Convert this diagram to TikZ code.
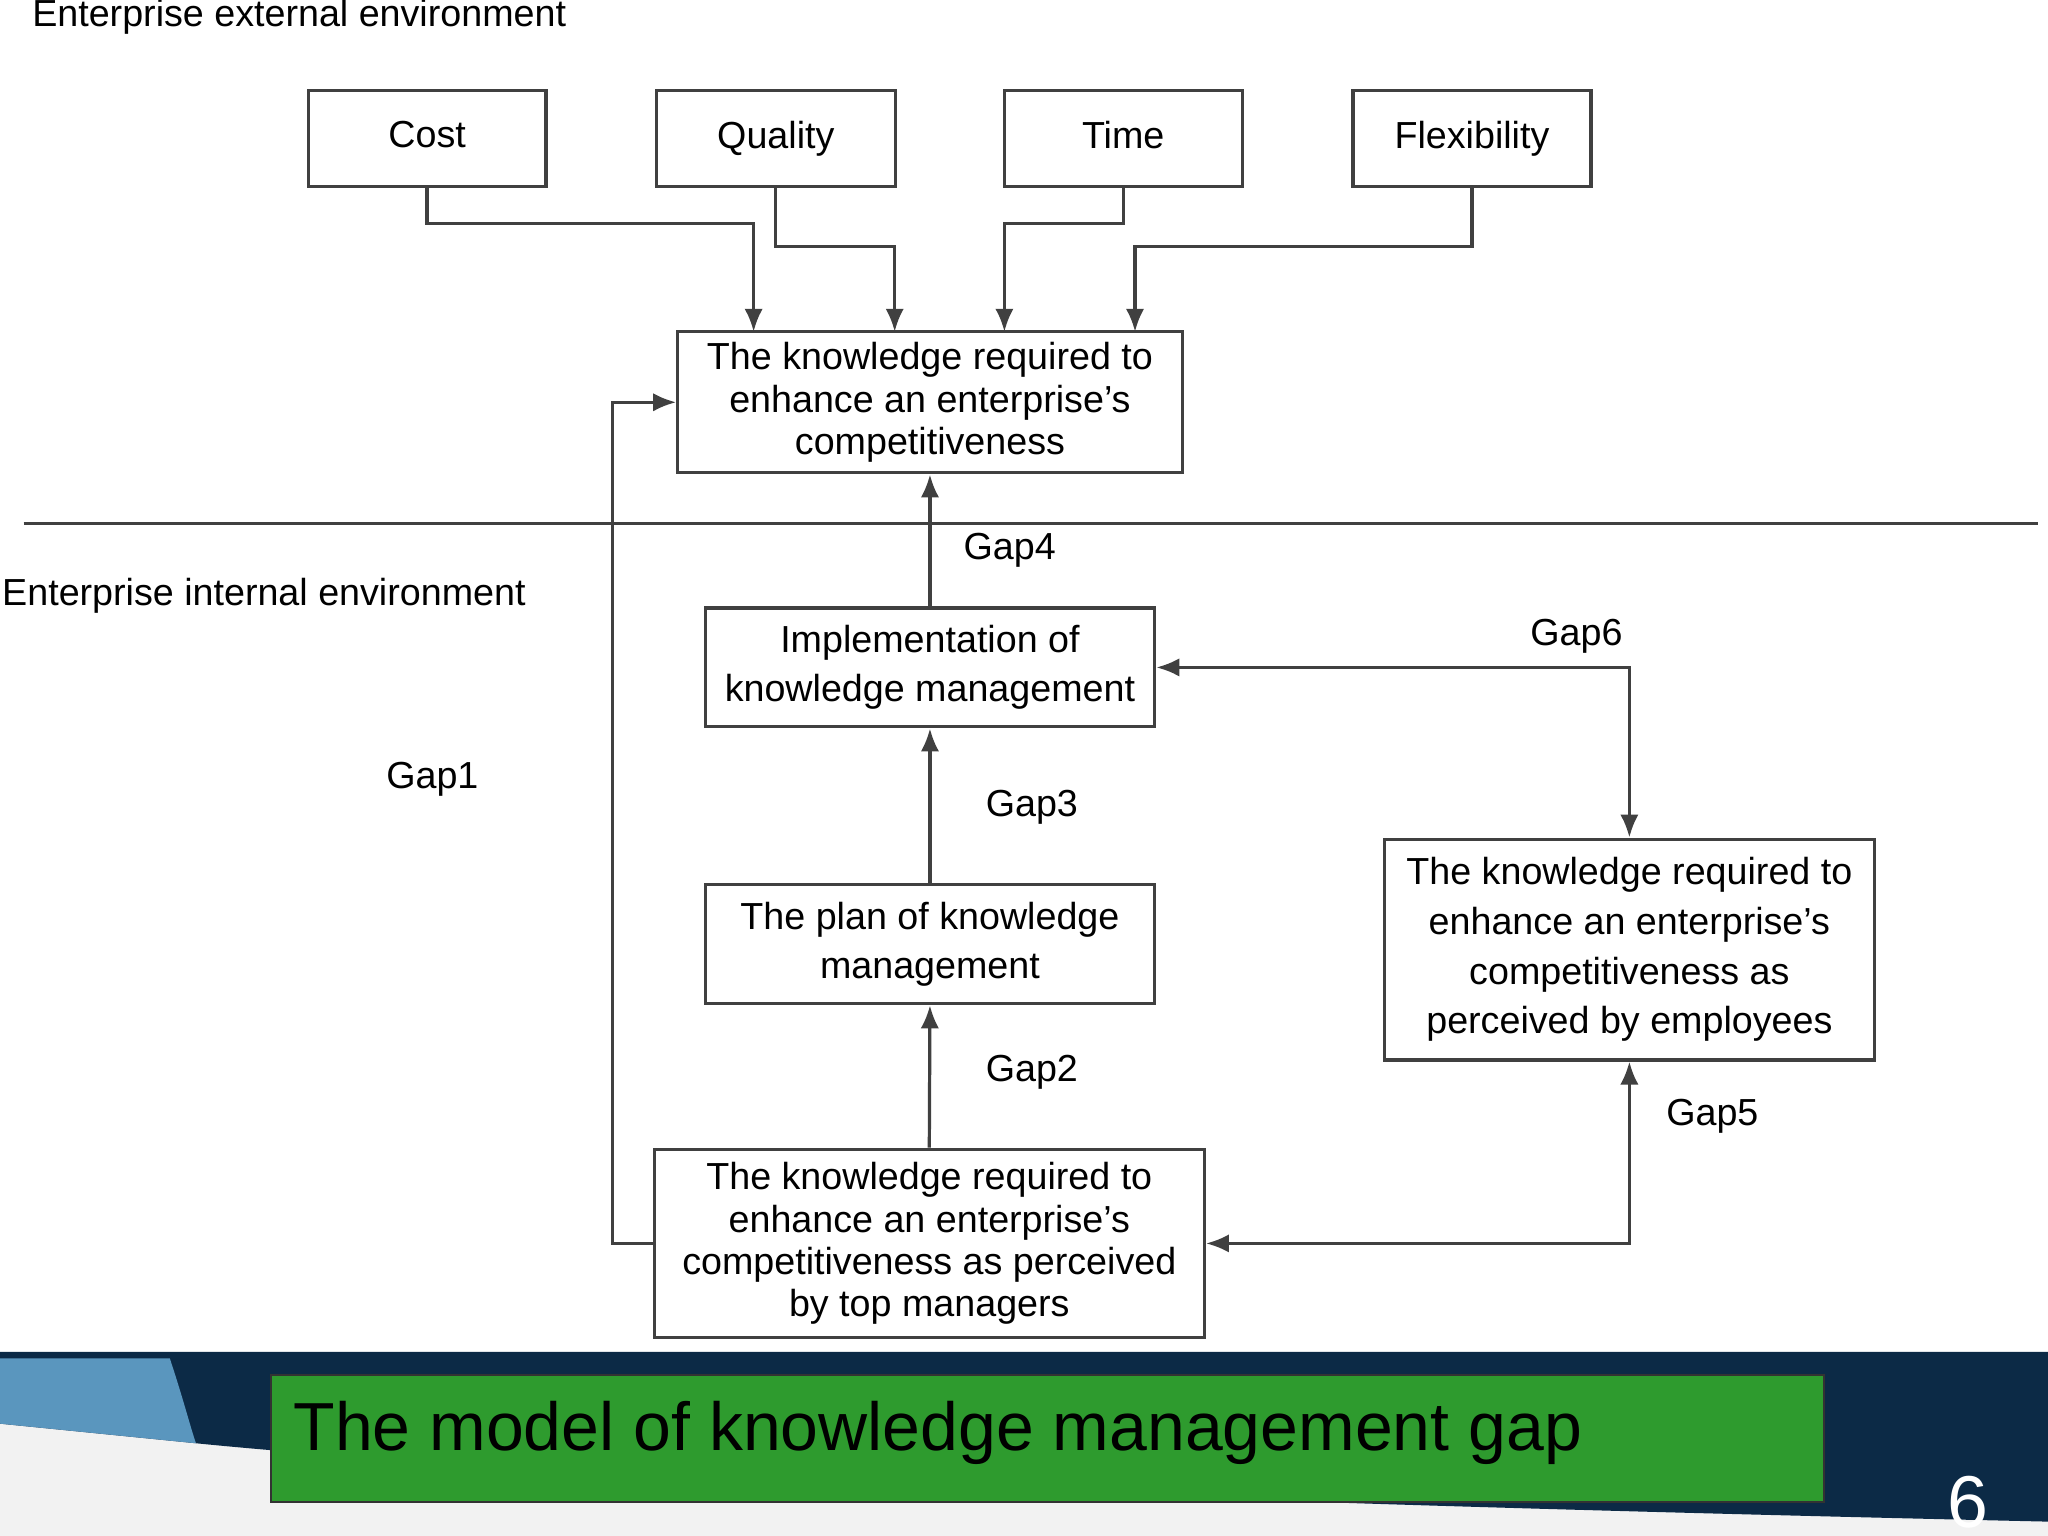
\documentclass[tikz,border=0pt]{standalone}
\usepackage{fontspec}
\setmainfont{Liberation Sans}
\usetikzlibrary{arrows.meta}
\begin{document}
\begin{tikzpicture}[x=0.01cm,y=-0.01cm,
  box/.style={draw=black!75,line width=0.7pt,inner sep=0pt,align=center,font=\fontsize{8.2}{9.2}\selectfont},
  conn/.style={draw=black!75,line width=0.7pt,-{Latex[length=5pt,width=4pt]}},
  lab/.style={font=\fontsize{8.2}{9.2}\selectfont,inner sep=0pt}]
\useasboundingbox (0,0) rectangle (1568,1176);
\fill[white] (0,0) rectangle (1568,1176);
% boxes
\node[box,minimum width=1.82cm,minimum height=0.73cm] (cost) at (327,106) {Cost\vphantom{Qy}};
\node[box,minimum width=1.83cm,minimum height=0.73cm] (qual) at (594,106) {Quality\vphantom{Qy}};
\node[box,minimum width=1.82cm,minimum height=0.73cm] (time) at (860,106) {Time\vphantom{Qy}};
\node[box,minimum width=1.82cm,minimum height=0.73cm] (flex) at (1127,106) {Flexibility\vphantom{Qy}};
\node[box,minimum width=3.86cm,minimum height=1.08cm] (k1) at (712,308) {The knowledge required to\\enhance an enterprise’s\\competitiveness};
\node[box,minimum width=3.44cm,minimum height=0.91cm,font=\fontsize{8.2}{10.8}\selectfont] (impl) at (712,511) {Implementation of\\knowledge management};
\node[box,minimum width=3.44cm,minimum height=0.91cm,font=\fontsize{8.2}{10.8}\selectfont] (plan) at (712,723) {The plan of knowledge\\management};
\node[box,minimum width=4.21cm,minimum height=1.44cm] (top) at (711.5,952) {The knowledge required to\\enhance an enterprise’s\\competitiveness as perceived\\by top managers};
\node[box,minimum width=3.75cm,minimum height=1.69cm,font=\fontsize{8.2}{10.8}\selectfont] (emp) at (1247.5,727) {The knowledge required to\\enhance an enterprise’s\\competitiveness as\\perceived by employees};
% top connectors
\draw[conn] (cost.south) |- (577,171) -- (577,254);
\draw[conn] (qual.south) |- (685,189) -- (685,254);
\draw[conn] (time.south) |- (769,171) -- (769,254);
\draw[conn] (flex.south) |- (869,189) -- (869,254);
% divider
\draw[black!75,line width=0.7pt] (18,401) -- (1560,401);
\node[lab,anchor=west] (ext) at (24,13) {Enterprise external environment};
\node[lab,anchor=west] (int) at (1,456) {Enterprise internal environment};
% internal connectors
\draw[conn] (top.west) -| (469,308) -- (k1.west);
\draw[conn] (impl.north) -- (k1.south);
\draw[conn] (plan.north) -- (impl.south);
\draw[conn] (top.north) -- (plan.south);
\draw[conn,{Latex[length=5pt,width=4pt]}-{Latex[length=5pt,width=4pt]}] (impl.east) -| (emp.north);
\draw[conn,{Latex[length=5pt,width=4pt]}-{Latex[length=5pt,width=4pt]}] (top.east) -| (emp.south);
% gap labels
\node[lab] (g4) at (773,421) {Gap4};
\node[lab] (g6) at (1207,487) {Gap6};
\node[lab] (g1) at (331,597) {Gap1};
\node[lab] (g3) at (790,618) {Gap3};
\node[lab] (g2) at (790,821) {Gap2};
\node[lab] (g5) at (1311,855) {Gap5};
% bottom band
\fill[black!5] (0,1035) rectangle (1568,1176);
\fill[color={rgb,255:red,12;green,42;blue,70}] (0,1035) -- (1568,1035) -- (1568,1165) .. controls (900,1150) and (400,1130) .. (150,1105) -- (0,1090) -- cycle;
\fill[color={rgb,255:red,90;green,150;blue,190}] (0,1040) -- (130,1040) .. controls (140,1070) and (145,1090) .. (150,1105) -- (0,1090) -- cycle;
\node[draw=black!80,fill={rgb,255:red,46;green,155;blue,46},minimum width=11.88cm,minimum height=0.97cm,inner sep=0pt] (title) at (802,1101.5) {};
\node[anchor=west,inner sep=0pt,font=\fontsize{14.8}{16}\selectfont] (tt) at (224,1097) {The model of knowledge management gap};
\node[font=\fontsize{16}{18}\selectfont,text=white] (num) at (1507,1150) {6};
\end{tikzpicture}
\end{document}
